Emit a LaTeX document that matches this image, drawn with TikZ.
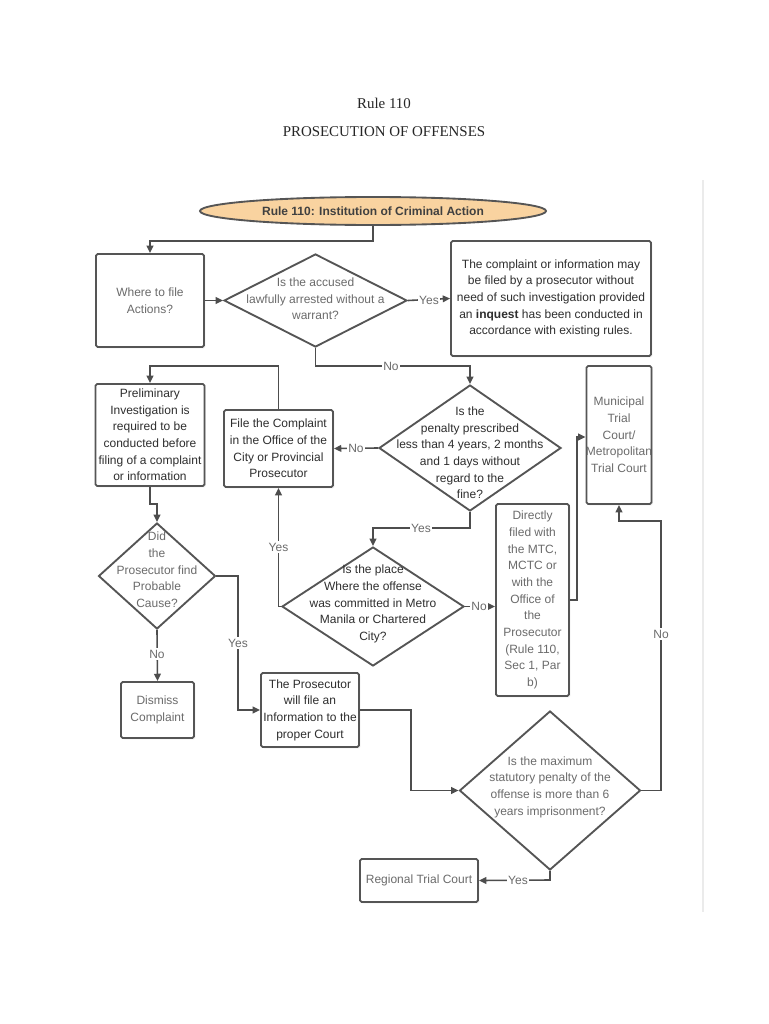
\documentclass[tikz,border=0pt]{standalone}
\usepackage{fontspec}
\setmainfont{Liberation Serif}
\newfontfamily\diasans{Liberation Sans}
\usetikzlibrary{shapes.geometric,arrows.meta,shadows}
\definecolor{linecol}{HTML}{4D4D4D}
\definecolor{bordercol}{HTML}{555555}
\definecolor{darktext}{HTML}{2E2E2E}
\definecolor{graytext}{HTML}{6B6B6B}
\definecolor{peach}{HTML}{F9D3A0}
\definecolor{framecol}{HTML}{EBEBEB}
\begin{document}
\begin{tikzpicture}[x=0.75pt,y=-0.75pt,
  flowtext/.style={font=\diasans\fontsize{9}{12.5}\selectfont, align=center, inner sep=0pt},
  boxnode/.style={flowtext, draw=bordercol, line width=1.4pt, rounded corners=1.2pt, fill=white,
    drop shadow={shadow xshift=1pt, shadow yshift=-1pt, opacity=0.15}},
  dianode/.style={draw=bordercol, line width=1.4pt, diamond, inner sep=0pt, fill=white},
  conn/.style={draw=linecol, line width=1.2pt, -{Triangle[length=5.5pt,width=5pt]}},
  lbl/.style={flowtext, text=graytext, fill=white, inner sep=1pt},
]
\useasboundingbox[fill=white] (0,0) rectangle (768,1024);

% titles
\node[font=\fontsize{11.2}{13}\selectfont, text=black!85] (t1) at (384,103) {Rule 110};
\node[font=\fontsize{11.2}{13}\selectfont, text=black!85] (t2) at (384,132) {PROSECUTION OF OFFENSES};

% faint frame edge
\draw[framecol, line width=1pt] (703,180) coordinate (fa) -- (703,912) coordinate (fb);

% start ellipse
\node[ellipse, draw=bordercol, line width=1.4pt, fill=peach, minimum width=346*0.75pt, minimum height=28*0.75pt,
  inner sep=0pt, font=\diasans\bfseries\fontsize{9}{11}\selectfont, text=black!75] (start) at (373,211)
  {Rule 110: Institution of Criminal Action};

% boxes
\node[boxnode, text=graytext, minimum width=108*0.75pt, minimum height=93*0.75pt] (A) at (150,300.5)
  {Where to file\\Actions?};
\node[boxnode, text=darktext, minimum width=200*0.75pt, minimum height=115*0.75pt] (C) at (551,298.5)
  {The complaint or information may\\be filed by a prosecutor without\\need of such investigation provided\\an \textbf{inquest} has been conducted in\\accordance with existing rules.};
\node[boxnode, text=darktext, minimum width=109*0.75pt, minimum height=102*0.75pt] (E) at (150,435)
  {Preliminary\\Investigation is\\required to be\\conducted before\\filing of a complaint\\or information};
\node[boxnode, text=darktext, minimum width=109*0.75pt, minimum height=77*0.75pt] (F) at (278.5,448.5)
  {File the Complaint\\in the Office of the\\City or Provincial\\Prosecutor};
\node[boxnode, text=graytext, minimum width=65*0.75pt, minimum height=138*0.75pt] (G) at (619,435)
  {\makebox[40pt]{Municipal}\\\makebox[40pt]{Trial}\\\makebox[40pt]{Court/}\\\makebox[40pt]{Metropolitan}\\\makebox[40pt]{Trial Court}};
\node[boxnode, text=graytext, minimum width=73*0.75pt, minimum height=192*0.75pt] (I) at (532.5,600)
  {Directly\\filed with\\the MTC,\\MCTC or\\with the\\Office of\\the\\Prosecutor\\(Rule 110,\\Sec 1, Par\\b)};
\node[boxnode, text=graytext, minimum width=73*0.75pt, minimum height=56*0.75pt] (M) at (157.5,710)
  {Dismiss\\Complaint};
\node[boxnode, text=darktext, minimum width=98*0.75pt, minimum height=74*0.75pt] (K) at (310,710)
  {The Prosecutor\\will file an\\Information to the\\proper Court};
\node[boxnode, text=graytext, minimum width=118*0.75pt, minimum height=43*0.75pt] (N) at (419,880.5)
  {Regional Trial Court};

% diamonds
\node[dianode, minimum width=183*0.75pt, minimum height=93*0.75pt] (B) at (315.5,300.5) {};
\node[flowtext, text=graytext] (Bt) at (315.5,299) {Is the accused\\lawfully arrested without a\\warrant?};
\node[dianode, minimum width=182*0.75pt, minimum height=126*0.75pt] (D) at (470,448) {};
\node[flowtext, text=darktext] (Dt) at (470,453) {Is the\\penalty prescribed\\less than 4 years, 2 months\\and 1 days without\\regard to the\\fine?};
\node[dianode, minimum width=117*0.75pt, minimum height=106*0.75pt] (L) at (157,576) {};
\node[flowtext, text=graytext] (Lt) at (157,570) {Did\\the\\Prosecutor find\\Probable\\Cause?};
\node[dianode, minimum width=182*0.75pt, minimum height=119*0.75pt] (H) at (373,606.5) {};
\node[flowtext, text=darktext] (Ht) at (373,604) {Is the place\\Where the offense\\was committed in Metro\\Manila or Chartered\\City?};
\node[dianode, minimum width=181*0.75pt, minimum height=159*0.75pt] (J) at (550,790.5) {};
\node[flowtext, text=graytext] (Jt) at (550,787) {Is the maximum\\statutory penalty of the\\offense is more than 6\\years imprisonment?};

% connectors
\draw[conn] (start.south) -- (373,241) -| (A.north);
\draw[conn] (A.east) -- (B.west);
\draw[conn] (B.east) -- (C.west);
\draw[conn] (B.south) -- (315.5,366) -| (D.north);
\draw[conn] (F.north) -- (278.5,366) -| (E.north);
\draw[conn] (D.west) -- (F.east);
\draw[conn] (D.south) -- (470,528) -| (H.north);
\draw[conn] (H.west) -| (F.south);
\draw[conn] (H.east) -- (H.east -| I.west);
\draw[conn] (I.east) -- (577,600) |- (G.west |- 0,437);
\draw[conn] (E.south) -- (150,504) -| (L.north);
\draw[conn] (L.east) -- (238,576) |- (K.west);
\draw[conn] (L.south) -- (M.north);
\draw[conn] (K.east) -- ++(51,0) |- (J.west);
\draw[conn] (J.east) -- (661,790.5) -- (661,521) -| (G.south);
\draw[conn] (J.south) -- (550,880) -- (N.east);

% labels
\node[lbl] (y1) at (429,300) {Yes};
\node[lbl] (n1) at (391,366) {No};
\node[lbl] (n2) at (356,448) {No};
\node[lbl] (y2) at (421,528) {Yes};
\node[lbl] (y3) at (278.5,547) {Yes};
\node[lbl] (n3) at (479,606.5) {No};
\node[lbl] (y4) at (238,643) {Yes};
\node[lbl] (n4) at (157,654) {No};
\node[lbl] (n5) at (661,634) {No};
\node[lbl] (y5) at (518,880) {Yes};
\end{tikzpicture}
\end{document}
